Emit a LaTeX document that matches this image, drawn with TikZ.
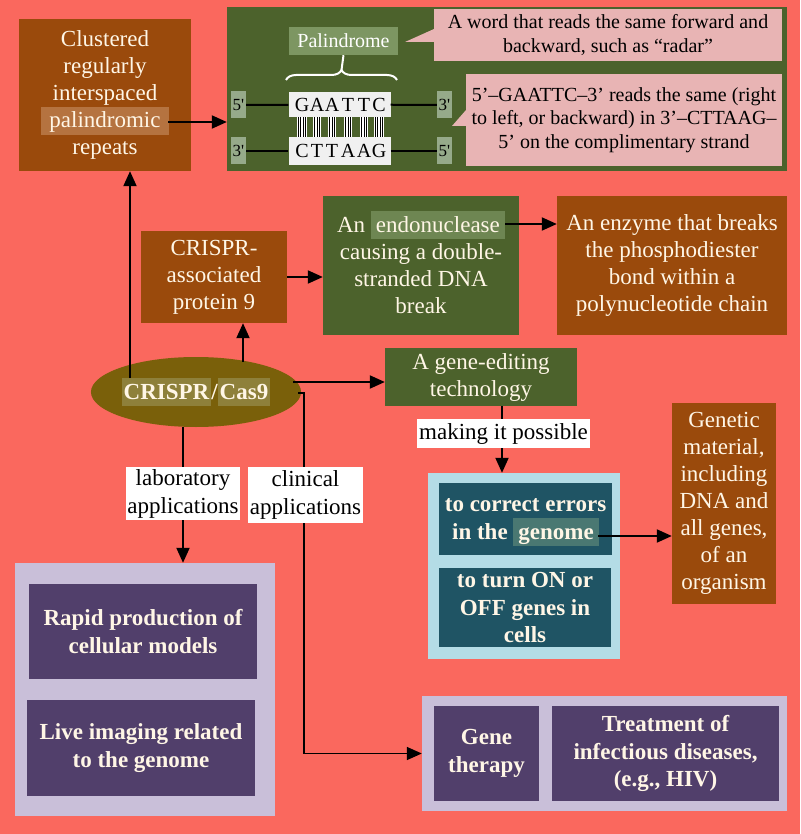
\documentclass[tikz,border=0pt]{standalone}
\usepackage{fontspec}
\setmainfont{Liberation Serif}
\usetikzlibrary{arrows.meta,shapes.geometric,decorations.pathreplacing}
\definecolor{bgc}{RGB}{250,104,94}
\definecolor{brownc}{RGB}{154,74,12}
\definecolor{brownhl}{RGB}{181,115,64}
\definecolor{greenc}{RGB}{76,98,44}
\definecolor{greenhl}{RGB}{110,134,82}
\definecolor{pallab}{RGB}{125,150,98}
\definecolor{primec}{RGB}{150,170,138}
\definecolor{pinkc}{RGB}{232,180,180}
\definecolor{olivec}{RGB}{122,96,10}
\definecolor{olivehl}{RGB}{142,128,58}
\definecolor{creamc}{RGB}{255,246,230}
\definecolor{tealc}{RGB}{31,84,100}
\definecolor{tealhl}{RGB}{74,120,114}
\definecolor{lblue}{RGB}{180,220,230}
\definecolor{lavc}{RGB}{201,191,217}
\definecolor{purc}{RGB}{81,63,107}
\definecolor{dnabox}{RGB}{240,240,240}
\newcommand\hl[3][3pt]{\smash{\setlength{\fboxsep}{0pt}\colorbox{#2}{\rule[-7pt]{0pt}{28pt}\hspace{#1}#3\hspace{#1}}}}
\newcommand\fsz[2]{\fontsize{#1}{#2}\selectfont}
\begin{document}
\begin{tikzpicture}[x=1pt,y=-1pt,
 box/.style={inner sep=0pt, align=center, text=creamc, font=\fsz{23}{27}},
 bbox/.style={inner sep=0pt, align=center, text=creamc, font=\fsz{23}{27.5}\bfseries},
 lab/.style={fill=white, inner sep=0pt, align=center, text=black, font=\fsz{23}{28}},
 pink/.style={fill=pinkc, inner sep=0pt, align=center, text=black, font=\fsz{20}{23.5}},
 prime/.style={fill=primec, inner sep=0pt, minimum width=15pt, minimum height=27pt, text=black, font=\fsz{17}{18}},
 dnal/.style={inner sep=0pt, text=black, font=\fsz{20}{20}},
 arr/.style={-{Triangle[length=15pt,width=13pt]}, line width=2pt},
 strand/.style={line width=2pt},
]
\fill[bgc] (0,0) rectangle (800,834);
\useasboundingbox (0,0) rectangle (800,834);

% top left
\node[box, fill=brownc, minimum width=172pt, minimum height=152pt] (clust) at (105,95)
 {Clustered\\regularly\\interspaced\\\hl[8pt]{brownhl}{palindromic}\\repeats};

% DNA panel
\node[fill=greenc, inner sep=0pt, minimum width=560pt, minimum height=164pt] (dna) at (507,89) {};
\node[fill=pallab, text=white, inner sep=0pt, minimum width=109pt, minimum height=28pt, font=\fsz{20}{22}] (pal) at (343.5,41) {Palindrome};
\draw[white, line width=2pt, decorate, decoration={brace, amplitude=10pt}] (286,80) -- (397,80);
\coordinate (btip) at (341.5,70);
\draw[white, line width=2pt] (btip) -- (pal.south);

\fill[pinkc] (434,29) -- (405,42) -- (434,42) -- cycle;
\node[pink, minimum width=348pt, minimum height=52pt] (pk1) at (608,35)
 {A word that reads the same forward and\\backward, such as “radar”};
\fill[pinkc] (466,110) -- (452,126) -- (466,126) -- cycle;
\node[pink, minimum width=316pt, minimum height=92pt] (pk2) at (624,120)
 {5’–GAATTC–3’ reads the same (right\\to left, or backward) in 3’–CTTAAG–\\5’ on the complimentary strand};

\node[prime] (l5) at (238.5,105) {5\textquotesingle};
\node[prime] (l3) at (238.5,151) {3\textquotesingle};
\node[prime] (r3) at (444.5,105) {3\textquotesingle};
\node[prime] (r5) at (444.5,151) {5\textquotesingle};
\node[fill=dnabox, inner sep=0pt, minimum width=102pt, minimum height=25pt] (s1) at (339.5,104.5) {};
\node[fill=dnabox, inner sep=0pt, minimum width=102pt, minimum height=28pt] (s2) at (339.5,151) {};
\draw[strand] (l5) -- (s1);
\draw[strand] (s1) -- (r3);
\draw[strand] (l3) -- (s2);
\draw[strand] (s2) -- (r5);
\foreach \x/\t/\b/\n [count=\i] in {302/G/C/4, 317/A/T/3, 332/A/T/3, 348/T/A/3, 364/T/A/3, 379/C/G/4} {
  \node[dnal] (tl\i) at (\x,105) {\t};
  \node[dnal] (bl\i) at (\x,151) {\b};
  \fill[white] ({\x-(\n-1)*1.1-1.6},117) rectangle ({\x+(\n-1)*1.1+1.6},137);
  \foreach \k in {1,...,\n} {
    \draw[black, line width=0.9pt] ({\x+(\k-(\n+1)/2)*2.2},117) -- ({\x+(\k-(\n+1)/2)*2.2},137);
  }
}
\coordinate (palE) at (168,122);
\draw[arr] (palE) -- (palE -| dna.west);

% Cas9 row
\node[box, fill=brownc, minimum width=146pt, minimum height=92pt] (cas) at (214,277)
 {CRISPR-\\associated\\protein 9};
\node[box, fill=greenc, minimum width=196pt, minimum height=139pt] (endo) at (421,265.5)
 {An \hl[5pt]{greenhl}{endonuclease}\\causing a double-\\stranded DNA\\break};
\node[box, fill=brownc, minimum width=230pt, minimum height=139pt] (enz) at (672,265.5)
 {An enzyme that breaks\\the phosphodiester\\bond within a\\polynucleotide chain};
\draw[arr] (cas.east) -- (cas.east -| endo.west);
\coordinate (endoE) at (505,224);
\draw[arr] (endoE) -- (endoE -| enz.west);

% center
\node[ellipse, fill=olivec, inner sep=0pt, minimum width=208pt, minimum height=70pt, text=creamc, font=\fsz{23}{26}\bfseries] (ell) at (196,392)
 {\hl[2pt]{olivehl}{CRISPR}/\hl[2pt]{olivehl}{Cas9}};
\node[box, fill=greenc, minimum width=192pt, minimum height=58pt] (ge) at (481,377)
 {A gene-editing\\technology};

\coordinate (e1) at (130,378);
\draw[arr] (e1) -- (e1 |- clust.south);
\coordinate (e2) at (243,362);
\draw[arr] (e2) -- (e2 |- cas.south);
\coordinate (e3) at (293,382);
\draw[arr] (e3) -- (e3 -| ge.west);

% gene editing outcomes
\node[fill=lblue, inner sep=0pt, minimum width=192pt, minimum height=186pt] (blue) at (524,566) {};
\node[bbox, fill=tealc, minimum width=173pt, minimum height=72pt] (corr) at (525.5,519)
 {to correct errors\\in the \hl[5pt]{tealhl}{genome}};
\node[bbox, fill=tealc, minimum width=172pt, minimum height=79pt] (turn) at (525,607.5)
 {to turn ON or\\OFF genes in\\cells};
\node[box, fill=brownc, minimum width=104pt, minimum height=201pt] (gen) at (724,503.5)
 {Genetic\\material,\\including\\DNA and\\all genes,\\of an\\organism};
\coordinate (genE) at (598,536);
\draw[arr] (genE) -- (genE -| gen.west);
\coordinate (g1) at (502,406);
\draw[arr] (g1) -- (g1 |- blue.north);
\node[lab, minimum width=173pt, minimum height=29pt] (mk) at (503.5,433.5) {making it possible};

% laboratory applications
\node[fill=lavc, inner sep=0pt, minimum width=260pt, minimum height=253pt] (labc) at (145,689.5) {};
\node[bbox, fill=purc, minimum width=228pt, minimum height=95pt] (rapid) at (143,631.5)
 {Rapid production of\\cellular models};
\node[bbox, fill=purc, minimum width=228pt, minimum height=96pt] (live) at (141,748)
 {Live imaging related\\to the genome};
\coordinate (e4) at (183,427);
\draw[arr] (e4) -- (e4 |- labc.north);
\node[lab, minimum width=114pt, minimum height=53pt] (labl) at (183,493.5) {laboratory\\applications};

% clinical applications
\node[fill=lavc, inner sep=0pt, minimum width=365pt, minimum height=115pt] (clin) at (604.5,753.5) {};
\node[bbox, fill=purc, minimum width=105pt, minimum height=95pt] (gt) at (486.5,753.5)
 {Gene\\therapy};
\node[bbox, fill=purc, minimum width=227pt, minimum height=95pt] (treat) at (665.5,753.5)
 {Treatment of\\infectious diseases,\\(e.g., HIV)};
\coordinate (e5) at (298,393);
\draw[arr, line width=1.6pt] (e5) -- ++(6,0) |- (clin.west);
\node[lab, minimum width=115pt, minimum height=56pt] (clinl) at (305.5,495) {clinical\\applications};
\end{tikzpicture}
\end{document}
